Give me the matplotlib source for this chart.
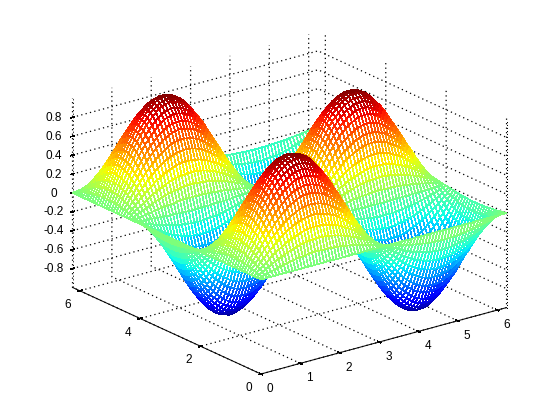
# mesh plot, white faces with jet coloured edges
import matplotlib
matplotlib.use('Agg')
import numpy as np
import matplotlib.pyplot as plt
from mpl_toolkits.mplot3d import Axes3D

plt.rcParams['font.family'] = ['Liberation Sans', 'DejaVu Sans']
plt.rcParams['font.size'] = 8.5
plt.rcParams['axes.unicode_minus'] = False
plt.rcParams['lines.antialiased'] = False
plt.rcParams['lines.dotted_pattern'] = [1, 2.6]
plt.rcParams['grid.color'] = 'k'
plt.rcParams['grid.linewidth'] = 0.9
plt.rcParams['grid.linestyle'] = ':'
plt.rcParams['axes.linewidth'] = 0.72
plt.rcParams['xtick.major.width'] = 0.5
plt.rcParams['ytick.major.width'] = 0.5

# height of the sheet along one x row and one y row
x_vals = [i * 8 / 100 for i in range(79)]
y_vals = [i * 8 / 100 for i in range(79)]
x_profile = [0.00, 0.08, 0.16, 0.24, 0.31, 0.39, 0.46, 0.53, 0.60, 0.66,
             0.72, 0.77, 0.82, 0.86, 0.90, 0.93, 0.96, 0.98, 0.99, 1.00,
             1.00, 0.99, 0.98, 0.96, 0.94, 0.91, 0.87, 0.83, 0.78, 0.73,
             0.68, 0.61, 0.55, 0.48, 0.41, 0.33, 0.26, 0.18, 0.10, 0.02,
             -0.06, -0.14, -0.22, -0.29, -0.37, -0.44, -0.51, -0.58, -0.64, -0.70,
             -0.76, -0.81, -0.85, -0.89, -0.92, -0.95, -0.97, -0.99, -1.00, -1.00,
             -1.00, -0.99, -0.97, -0.95, -0.92, -0.88, -0.84, -0.80, -0.75, -0.69,
             -0.63, -0.57, -0.50, -0.43, -0.36, -0.28, -0.20, -0.12, -0.04]
y_profile = [0.00, 0.12, 0.24, 0.35, 0.46, 0.56, 0.66, 0.74, 0.82, 0.88,
             0.93, 0.97, 0.99, 1.00, 0.99, 0.97, 0.94, 0.89, 0.83, 0.76,
             0.68, 0.58, 0.48, 0.37, 0.26, 0.14, 0.02, -0.10, -0.22, -0.33,
             -0.44, -0.55, -0.64, -0.73, -0.81, -0.87, -0.92, -0.96, -0.99, -1.00,
             -1.00, -0.98, -0.95, -0.90, -0.84, -0.77, -0.69, -0.60, -0.50, -0.39,
             -0.28, -0.16, -0.04, 0.08, 0.20, 0.31, 0.42, 0.53, 0.63, 0.72,
             0.79, 0.86, 0.91, 0.96, 0.98, 1.00, 1.00, 0.98, 0.95, 0.91,
             0.85, 0.78, 0.70, 0.61, 0.51, 0.41, 0.29, 0.18, 0.06]

x_ticks = [0, 1, 2, 3, 4, 5, 6]
x_labels = ['0', '1', '2', '3', '4', '5', '6']
y_ticks = [0, 2, 4, 6]
y_labels = ['0', '2', '4', '6']
z_ticks = [-0.8, -0.6, -0.4, -0.2, 0, 0.2, 0.4, 0.6, 0.8]
z_labels = ['-0.8', '-0.6', '-0.4', '-0.2', '0', '0.2', '0.4', '0.6', '0.8']

X, Y = np.meshgrid(x_vals, y_vals)
Z = np.outer(y_profile, x_profile)

fig = plt.figure(figsize=(5.6, 4.2), dpi=100)
# box has to fill 73..507 x 32..374 px, stretched like the original
# (mplot3d view limits run -0.95..0.9, hence the off centre origin)
ax = fig.add_axes([-4.5 / 560, 9.7 / 420, 572.6 / 560, 403.7 / 420], projection='3d')
ax.apply_aspect = lambda position=None: ax._set_position(ax.get_position(original=True), 'active')
ax.set_proj_type('ortho')
ax.view_init(elev=30, azim=-127.5)
ax.set_box_aspect((1, 1, 1), zoom=0.909)
ax.patch.set_alpha(0)
ax.computed_zorder = False

surf = ax.plot_surface(X, Y, Z, rstride=1, cstride=1, color='white', shade=False,
                       linewidth=0.5, antialiased=False, zorder=2)
zc = Z[:-1, :-1]
norm = plt.Normalize(Z.min(), Z.max())
surf.set_edgecolors(matplotlib.colormaps['jet'](norm(zc.ravel())))
surf.set_facecolors('white')

ax.set_xlim(min(x_vals), max(x_vals))
ax.set_ylim(min(y_vals), max(y_vals))
ax.set_zlim(Z.min(), Z.max())
ax.set_xticks(x_ticks)
ax.set_xticklabels(x_labels, va='center_baseline')
ax.set_yticks(y_ticks)
ax.set_yticklabels(y_labels, va='center_baseline')
ax.set_zticks(z_ticks)
ax.set_zticklabels(z_labels, va='center_baseline')
ax.grid(True)

for axis in (ax.xaxis, ax.yaxis, ax.zaxis):
    axis.set_pane_color((1, 1, 1, 0))
    axis.pane.set_edgecolor('none')
    axis.line.set_color('k')
    axis.line.set_linewidth(0.72)
    axis.gridlines.set_antialiased(True)
    axis._axinfo['tick'].update({'inward_factor': 0.1, 'outward_factor': 0.1})
ax.zaxis.line.set_linestyle(':')
ax.tick_params(axis='x', pad=1)
ax.tick_params(axis='y', pad=1)
ax.tick_params(axis='z', pad=0)

# dotted edge at the right corner
ax.plot([max(x_vals)] * 2, [min(y_vals)] * 2, [Z.min(), Z.max()], 'k:', lw=0.72, zorder=1)

fig.savefig('out.png', dpi=100)
